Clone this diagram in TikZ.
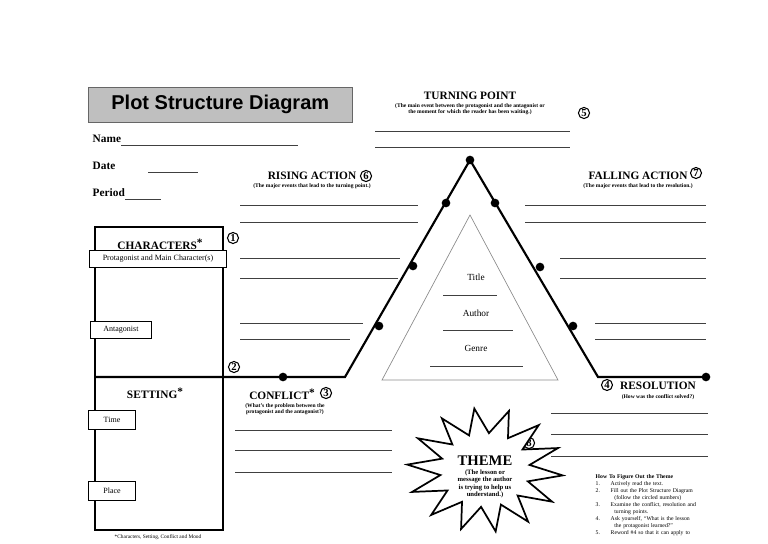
\documentclass[tikz,border=0pt]{standalone}
\usepackage{fontspec}
\setmainfont{Liberation Serif}
\newfontfamily\titlefont{Liberation Sans}
\begin{document}
\begin{tikzpicture}[x=0.75pt,y=-0.75pt,
  num/.style={draw,circle,thick,inner sep=0.6pt,font=\bfseries\fontsize{8}{8}\selectfont},
  dot/.style={circle,fill,inner sep=0pt,minimum size=6.5pt},
  wl/.style={draw=black!75,line width=0.6pt},
  head/.style={font=\bfseries\fontsize{8.5}{9}\selectfont},
  sub/.style={font=\bfseries\fontsize{4.2}{4.8}\selectfont,align=center},
  lab/.style={draw,fill=white,font=\fontsize{6}{7}\selectfont,inner sep=2pt},
  plot/.style={line width=1.6pt}]
\useasboundingbox[fill=white] (0,0) rectangle (768,543);
% title
\node[draw=black!60,fill=black!25,minimum width=198pt,minimum height=26pt,anchor=north west,font=\titlefont\bfseries\fontsize{15}{15}\selectfont] (title) at (88,87) {Plot Structure Diagram};
\node[anchor=west,font=\bfseries\fontsize{8.5}{9}\selectfont] (nm) at (88,139) {Name};
\draw[wl] (121,145) -- (298,145);
\node[anchor=west,font=\bfseries\fontsize{8.5}{9}\selectfont] (dt) at (88,166) {Date};
\draw[wl] (148,172) -- (198,172);
\node[anchor=west,font=\bfseries\fontsize{8.5}{9}\selectfont] (pd) at (88,193) {Period};
\draw[wl] (125,199) -- (161,199);
% boxes
\draw[plot] (95,227) rectangle (223,530);
% plot line
\coordinate (p0) at (95,377);
\coordinate (p1) at (345,377);
\coordinate (apex) at (470,160);
\coordinate (p3) at (598,377);
\draw[plot] (p0) -- (p1) -- (apex) -- (p3) -- (706,377);
\foreach \x/\y in {283/377,379/326,413/266,446/203,470/160,495/203,540/267,573/326,706/377}
  \node[dot] at (\x,\y) {};
% inner triangle
\draw[black!45,line width=0.5pt] (470,215) -- (382,380) -- (558,380) -- cycle;
\node[font=\fontsize{7}{8}\selectfont] (tt) at (476,277) {Title};
\draw[wl] (443,295) -- (497,295);
\node[font=\fontsize{7}{8}\selectfont] (au) at (476,313) {Author};
\draw[wl] (443,330) -- (513,330);
\node[font=\fontsize{7}{8}\selectfont] (ge) at (476,348) {Genre};
\draw[wl] (430,366) -- (523,366);
% labels
\node[lab,minimum width=103pt,minimum height=13pt] (prot) at (158,259) {Protagonist and Main Character(s)};
\node[lab,minimum width=46pt,minimum height=13pt] (ant) at (121,330) {Antagonist};
\node[lab,minimum width=35pt,minimum height=14pt] (time) at (112,420) {Time};
\node[lab,minimum width=35pt,minimum height=14pt] (place) at (112,491) {Place};
\node[head] (ch) at (160,244) {CHARACTERS\raisebox{2pt}{*}};
\node[head] (se) at (155,393) {SETTING\raisebox{2pt}{*}};
\node[font=\fontsize{4}{5}\selectfont] (fn) at (158,537) {*Characters, Setting, Conflict and Mood};
% numbers
\node[num] (n1) at (233,238) {1};
\node[num] (n2) at (234,367) {2};
\node[num] (n3) at (326,393) {3};
\node[num] (n4) at (607,385) {4};
\node[num] (n5) at (584,113) {5};
\node[num] (n6) at (366,176) {6};
\node[num] (n7) at (696,173) {7};
\node[num] (n8) at (529,443) {8};
% headings
\node[head] (tp) at (470,96) {TURNING POINT};
\node[sub] (tps) at (470,109) {(The main event between the protagonist and the antagonist or\\the moment for which the reader has been waiting.)};
\draw[wl] (375,131) -- (570,131);
\draw[wl] (375,147) -- (570,147);
\node[head] (ra) at (312,176) {RISING ACTION};
\node[sub] (ras) at (312,186) {(The major events that lead to the turning point.)};
\node[head] (fa) at (638,176) {FALLING ACTION};
\node[sub] (fas) at (638,186) {(The major events that lead to the resolution.)};
\node[head] (cf) at (282,394) {CONFLICT\raisebox{2pt}{*}};
\node[sub] (cfs) at (285,409) {(What's the problem between the\\protagonist and the antagonist?)};
\node[head] (rs) at (658,386) {RESOLUTION};
\node[sub] (rss) at (658,397) {(How was the conflict solved?)};
% writing lines
\foreach \y/\a/\b in {205/240/418,222/240/418,258/240/400,278/240/398,323/240/363,339/240/350}
  \draw[wl] (\a,\y) -- (\b,\y);
\foreach \y/\a in {205/525,222/525,258/560,278/560,323/595,339/595}
  \draw[wl] (\a,\y) -- (706,\y);
\foreach \y in {430,450,472} \draw[wl] (235,\y) -- (392,\y);
\foreach \y in {413,434,456} \draw[wl] (551,\y) -- (708,\y);
% theme starburst
\draw[line width=1.3pt,fill=white] plot[samples=29,domain=0:28,variable=\i]
  ({485+(mod(\i,2)==0 ? 78 : 45)*cos(\i*360/28+5)},{470+(mod(\i,2)==0 ? 62 : 37)*sin(\i*360/28+5)}) -- cycle;
\node[font=\bfseries\fontsize{11}{11}\selectfont] (th) at (485,461) {THEME};
\node[sub,font=\bfseries\fontsize{5}{5.6}\selectfont] (ths) at (485,484) {(The lesson or\\message the author\\is trying to help us\\understand.)};
% how to
\node[anchor=north west,font=\fontsize{4.3}{5.2}\selectfont,align=left,text width=120pt] (how) at (591,470) {\textbf{How To Figure Out the Theme}\\
1.\hspace{8pt}Actively read the text.\\
2.\hspace{8pt}Fill out the Plot Structure Diagram\\\hspace{14pt}(follow the circled numbers)\\
3.\hspace{8pt}Examine the conflict, resolution and\\\hspace{14pt}turning points.\\
4.\hspace{8pt}Ask yourself, ``What is the lesson\\\hspace{14pt}the protagonist learned?''\\
5.\hspace{8pt}Reword \#4 so that it can apply to};
\end{tikzpicture}
\end{document}
